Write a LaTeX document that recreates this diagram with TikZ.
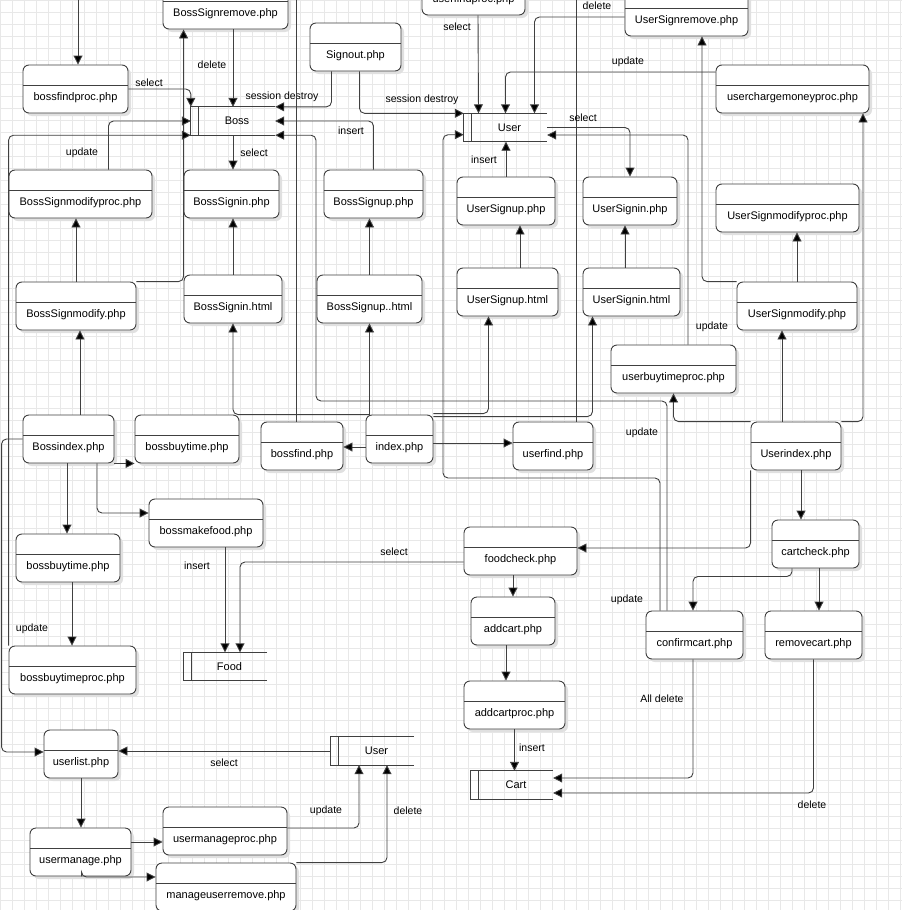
\documentclass[tikz,border=0pt]{standalone}
\usepackage{fontspec}
\setmainfont{Liberation Sans}
\usetikzlibrary{arrows.meta,shadows}
\tikzset{
  pbox/.style={draw=black!75,line width=0.9pt,rounded corners=6pt,minimum height=48pt,inner sep=0pt,fill=white,
    drop shadow={shadow xshift=3pt,shadow yshift=-3pt,fill=black!12,opacity=1},
    path picture={\draw[black!75,line width=0.9pt] ([yshift=-20pt]path picture bounding box.north west) -- ([yshift=-20pt]path picture bounding box.north east);}},
  store/.style={minimum height=28pt,inner sep=0pt},
  a/.style={draw=black!75,line width=0.9pt,rounded corners=5pt,-{Triangle[length=9pt,width=9pt,fill=black]}},
  ln/.style={draw=black!75,line width=0.9pt,rounded corners=5pt},
  lb/.style={font=\fontsize{10.5}{12}\selectfont,inner sep=1pt},
  every node/.append style={font=\fontsize{11}{13}\selectfont}
}
\newcommand\pb[5]{\node[pbox,minimum width=#4pt,label={[yshift=-9pt]center:#5}] (#1) at (#2,#3) {};}
\newcommand\ds[5]{\node[store,minimum width=#4pt,label={[xshift=4pt]center:#5}] (#1) at (#2,#3) {};
  \draw[black!75,line width=0.9pt] (#1.north east) -- (#1.north west) -- (#1.south west) -- (#1.south east);
  \draw[black!75,line width=0.9pt] ([xshift=8pt]#1.north west) -- ([xshift=8pt]#1.south west);}
\begin{document}
\begin{tikzpicture}[x=1pt,y=-1pt]
\fill[white] (0,0) rectangle (902,910);
\useasboundingbox (0,0) rectangle (902,910);
\draw[black!9,line width=0.5pt,step=12pt] (0,0) grid (902,910);
% nodes
\pb{BSr}{225.5}{5}{125}{BossSignremove.php}
\pb{ufp}{473.5}{-9}{103}{userfindproc.php}
\pb{USr}{686.5}{12}{123}{UserSignremove.php}
\pb{So}{355.5}{47}{91}{Signout.php}
\pb{bfp}{75.5}{89}{105}{bossfindproc.php}
\pb{ucm}{792.5}{89}{153}{userchargemoneyproc.php}
\pb{BSmp}{80.5}{194}{143}{BossSignmodifyproc.php}
\pb{BSi}{231.5}{194}{95}{BossSignin.php}
\pb{BSu}{373.5}{194}{99}{BossSignup.php}
\pb{USu}{506}{201}{98}{UserSignup.php}
\pb{USi}{630}{201}{94}{UserSignin.php}
\pb{USmp}{787.5}{208}{143}{UserSignmodifyproc.php}
\pb{BSm}{76}{306}{120}{BossSignmodify.php}
\pb{BSih}{233}{299}{98}{BossSignin.html}
\pb{BSuh}{369.5}{299}{105}{BossSignup..html}
\pb{USuh}{507.5}{292}{101}{UserSignup.html}
\pb{USih}{631.5}{292}{97}{UserSignin.html}
\pb{USm}{797}{306}{120}{UserSignmodify.php}
\pb{ubt}{673.5}{369}{125}{userbuytimeproc.php}
\pb{Bi}{68.5}{439}{91}{Bossindex.php}
\pb{bbt}{187}{439}{104}{bossbuytime.php}
\pb{bf}{302}{446}{82}{bossfind.php}
\pb{idx}{399.5}{439}{67}{index.php}
\pb{uf}{553}{446}{80}{userfind.php}
\pb{Ui}{796}{446}{90}{Userindex.php}
\pb{bmf}{206}{523}{114}{bossmakefood.php}
\pb{bbt2}{68}{558}{104}{bossbuytime.php}
\pb{fc}{520.5}{551}{113}{foodcheck.php}
\pb{cc}{815.5}{544}{87}{cartcheck.php}
\pb{ac}{513}{621}{84}{addcart.php}
\pb{cf}{694.5}{635}{97}{confirmcart.php}
\pb{rc}{813.5}{635}{97}{removecart.php}
\pb{BBtp}{72.5}{670}{127}{bossbuytimeproc.php}
\pb{acp}{514.5}{705}{101}{addcartproc.php}
\pb{ul}{81}{754}{74}{userlist.php}
\pb{ump}{225}{831}{124}{usermanageproc.php}
\pb{um}{80.5}{852}{101}{usermanage.php}
\pb{mur}{226}{887}{140}{manageuserremove.php}
\ds{Boss}{233}{121}{84}{Boss}
\ds{User}{505.5}{127.5}{83}{User}
\ds{Food}{225.5}{666.5}{83}{Food}
\ds{U2}{372.5}{751}{83}{User}
\ds{Cart}{512}{785}{82}{Cart}
% connectors
\coordinate (t1) at (78,-5);
\draw[a] (t1) -- (t1 |- bfp.north);
\draw[a] (bfp.east) -| (Boss.north west);
\node[lb] (l1) at (149,83) {select};
\draw[a] (Boss.north |- BSr.south) -- (Boss.north);
\node[lb] (l2) at (212,65) {delete};
\draw[a] (BSm.north east) -| ([xshift=21pt]BSr.south west);
\draw[a] ([xshift=-24pt]So.south) |- (Boss.north east);
\node[lb] (l3) at (282,97) {session destroy};
\draw[a] ([xshift=4pt]So.south) |- (User.north west);
\node[lb] (l4) at (422,100) {session destroy};
\draw[a] ([xshift=28pt]BSmp.north) |- (Boss.west);
\node[lb] (l5) at (82,153) {update};
\draw[a] (BBtp.north west) |- (Boss.south west);
\draw[a] (Bi.west) -- ++(-21,0) |- ([yshift=2pt]ul.west);
\draw[a] (Boss.south) -- (Boss.south |- BSi.north);
\node[lb] (l6) at (254,153) {select};
\draw[a] (BSu.north) |- (Boss.east);
\node[lb] (l7) at (351,131) {insert};
\coordinate (k1) at (316,401);
\coordinate (k2) at (443,478);
\draw[a] ([xshift=-27.5pt]cf.north) |- (k1) |- (Boss.south east);
\draw[a] ([xshift=-34.5pt]cf.north) |- (k2) |- ([yshift=7pt]User.south west);
\node[lb] (l8) at (642,433) {update};
\node[lb] (l9) at (627,600) {update};
\draw[a] (BSih.north) -- (BSih.north |- BSi.south);
\draw[a] (BSuh.north) -- (BSuh.north |- BSu.south);
\draw[a] (BSm.north) -- (BSm.north |- BSmp.south);
\draw[ln] ([xshift=-6pt]bf.north) -- ++(0,-430);
\draw[a] ([xshift=-30pt]idx.north) -- (BSuh.south);
\draw[a] ([xshift=-30pt]idx.north) -| (BSih.south);
\draw[a] ([yshift=1pt]idx.north east) -| ([xshift=-19pt]USuh.south);
\draw[a] ([yshift=-2pt]idx.north east) -| ([xshift=-39pt]USih.south);
\draw[ln] ([xshift=23pt]uf.north) -- ++(0,-430);
\draw[a] ([yshift=-5pt]USr.west) -| ([xshift=29pt]User.north);
\node[lb] (l10) at (597,6) {delete};
\draw[a] ([xshift=4.5pt]ufp.south) -- ([xshift=-27pt]User.north);
\node[lb] (l11) at (457,27) {select};
\draw[a] ([yshift=17pt]ucm.west) -| (User.north);
\node[lb] (l12) at (628,62) {update};
\draw[a] (User.east) -| (USi.north);
\node[lb] (l13) at (583,118) {select};
\draw[a] (USu.north) -- (USu.north |- User.south);
\node[lb] (l14) at (484,160) {insert};
\draw[a] ([xshift=14.5pt]ubt.north) |- ([yshift=-7.5pt]User.east);
\node[lb] (l15) at (712,327) {update};
\draw[a] ([xshift=12.5pt]USuh.north) -- ([xshift=12.5pt]USuh.north |- USu.south);
\draw[a] ([xshift=-6.5pt]USih.north) -- ([xshift=-6.5pt]USih.north |- USi.south);
\draw[a] (USm.north) -- (USm.north |- USmp.south);
\draw[a] (USm.north west) -| ([xshift=15.5pt]USr.south);
\draw[a] ([xshift=-14pt]Ui.north) -- ([xshift=-14pt]Ui.north |- USm.south);
\draw[a] (Ui.north east) -| ([xshift=70.5pt]ucm.south);
\draw[a] (Ui.north west) -| (ubt.south);
\draw[a] ([xshift=11.5pt]Bi.north) -- ([xshift=11.5pt]Bi.north |- BSm.south);
\draw[a] (Bi.south east) -- (bbt.south west);
\draw[a] ([yshift=-8pt]idx.west) -- ([yshift=-1pt]bf.east);
\draw[a] ([yshift=-4pt]idx.east) -- ([yshift=3pt]uf.west);
\draw[a] ([xshift=-1.5pt]Bi.south) -- ([xshift=-1.5pt]Bi.south |- bbt2.north);
\draw[a] ([xshift=28.5pt]Bi.south) |- ([yshift=10pt]bmf.west);
\draw[a] ([xshift=4pt]bbt2.south) -- ([xshift=4pt]bbt2.south |- BBtp.north);
\node[lb] (l16) at (32,629) {update};
\draw[a] ([xshift=19pt]bmf.south) -- ([xshift=19pt]bmf.south |- Food.north);
\node[lb] (l17) at (197,566) {insert};
\draw[a] ([yshift=-11pt]fc.west) -| ([xshift=14.5pt]Food.north);
\node[lb] (l18) at (394,552) {select};
\draw[a] (Ui.south west) |- ([yshift=3pt]fc.east);
\draw[a] ([xshift=5pt]Ui.south) -- ([xshift=5pt]Ui.south |- cc.north);
\draw[a] ([xshift=-23.5pt]cc.south) -- ++(0,8) -| ([xshift=-1.5pt]cf.north);
\draw[a] ([xshift=3.5pt]cc.south) -- ([xshift=3.5pt]cc.south |- rc.north);
\draw[a] ([xshift=-7.5pt]fc.south) -- ([xshift=-7.5pt]fc.south |- ac.north);
\draw[a] ([xshift=-7pt]ac.south) -- ([xshift=-7pt]ac.south |- acp.north);
\draw[a] (acp.south) -- (acp.south |- Cart.north);
\node[lb] (l19) at (532,748) {insert};
\draw[a] ([xshift=-1.5pt]cf.south) |- ([yshift=7pt]Cart.east);
\node[lb] (l20) at (662,699) {All delete};
\draw[a] (rc.south) |- ([yshift=-8pt]Cart.east);
\node[lb] (l21) at (812,805) {delete};
\draw[a] (U2.west) -- (U2.west -| ul.east);
\node[lb] (l22) at (224,763) {select};
\draw[a] (ul.south) -- (ul.south |- um.north);
\draw[a] ([yshift=10pt]um.east) -- ([yshift=10pt]um.east -| ump.west);
\draw[a] ([xshift=1pt]um.south) |- ([yshift=10pt]mur.west);
\draw[a] ([yshift=3pt]ump.east) -| ([xshift=-13.5pt]U2.south);
\node[lb] (l23) at (326,811) {update};
\draw[a] (mur.north east) -| ([xshift=14.5pt]U2.south);
\node[lb] (l24) at (408,811) {delete};
\end{tikzpicture}
\end{document}
